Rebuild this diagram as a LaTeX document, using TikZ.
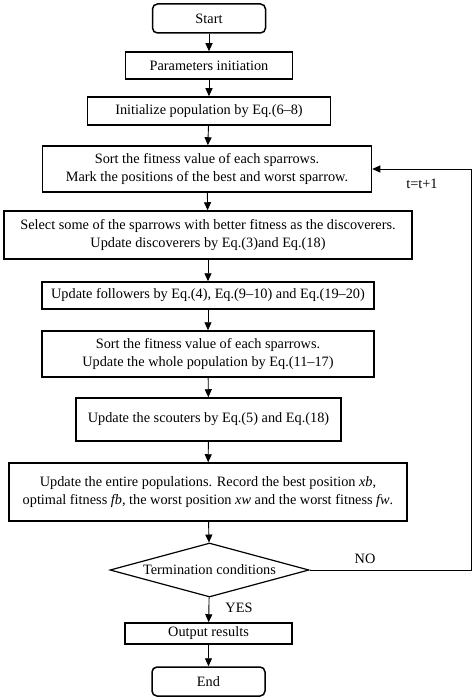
\documentclass[tikz,border=0pt]{standalone}
\usepackage{fontspec}
\setmainfont{Liberation Serif}
\usetikzlibrary{shapes.geometric,arrows.meta}
\begin{document}
\begin{tikzpicture}[x=1pt,y=-1pt,
  font=\fontsize{14.3}{18}\selectfont,
  box/.style={draw, line width=1.5pt, align=center, inner sep=0pt},
  term/.style={box, rounded corners=5pt},
  dec/.style={draw, line width=1.2pt, shape=diamond, aspect=3.6, inner sep=0pt, minimum width=199pt, minimum height=54pt},
  arr/.style={line width=0.9pt, -{Triangle[length=8pt,width=7pt]}},
  lbl/.style={inner sep=0pt}]
\useasboundingbox (0,0) rectangle (474,700);
\node[term, minimum width=113pt, minimum height=29pt] (start) at (209,18.5) {Start};
\node[box, minimum width=167pt, minimum height=27pt] (param) at (209,65.5) {Parameters initiation};
\node[box, minimum width=243pt, minimum height=28pt] (init) at (209,111) {Initialize population by Eq.(6--8)};
\node[box, minimum width=329pt, minimum height=46pt] (sort) at (207,169) {Sort the fitness value of each sparrows.\\Mark the positions of the best and worst sparrow.};
\node[box, minimum width=408pt, minimum height=48pt] (select) at (208,235) {Select some of the sparrows with better fitness as the discoverers.\\Update discoverers by Eq.(3)and Eq.(18)};
\node[box, minimum width=332pt, minimum height=27pt] (follow) at (208,295.5) {Update followers by Eq.(4), Eq.(9--10) and Eq.(19--20)};
\node[box, minimum width=332pt, minimum height=46pt] (sorttwo) at (208,354) {Sort the fitness value of each sparrows.\\Update the whole population by Eq.(11--17)};
\node[box, minimum width=265pt, minimum height=43pt] (scout) at (208.5,419.5) {Update the scouters by Eq.(5) and Eq.(18)};
\node[box, minimum width=398pt, minimum height=58pt] (upd) at (208,492) {Update the entire populations. Record the best position \textit{xb},\\optimal fitness \textit{fb}, the worst position \textit{xw} and the worst fitness \textit{fw}.};
\node[dec] (term) at (209.5,570) {Termination conditions};
\node[box, minimum width=167pt, minimum height=21pt] (out) at (208.5,633.5) {Output results};
\node[term, minimum width=113pt, minimum height=29pt] (end) at (208.5,681.5) {End};
\coordinate (lp) at (471,570);
\draw[arr] (start) -- (param);
\draw[arr] (param) -- (init);
\draw[arr] (init) -- (sort);
\draw[arr] (sort) -- (select);
\draw[arr] (select) -- (follow);
\draw[arr] (follow) -- (sorttwo);
\draw[arr] (sorttwo) -- (scout);
\draw[arr] (scout) -- (upd);
\draw[arr] (upd) -- (term);
\draw[arr] (term) -- (out);
\draw[arr] (out) -- (end);
\draw[arr] (term.east) -- (lp) |- (sort.east);
\node[lbl] (no) at (365,559) {NO};
\node[lbl] (yes) at (239,608) {YES};
\node[lbl] (tt) at (422,184) {t=t+1};
\end{tikzpicture}
\end{document}
